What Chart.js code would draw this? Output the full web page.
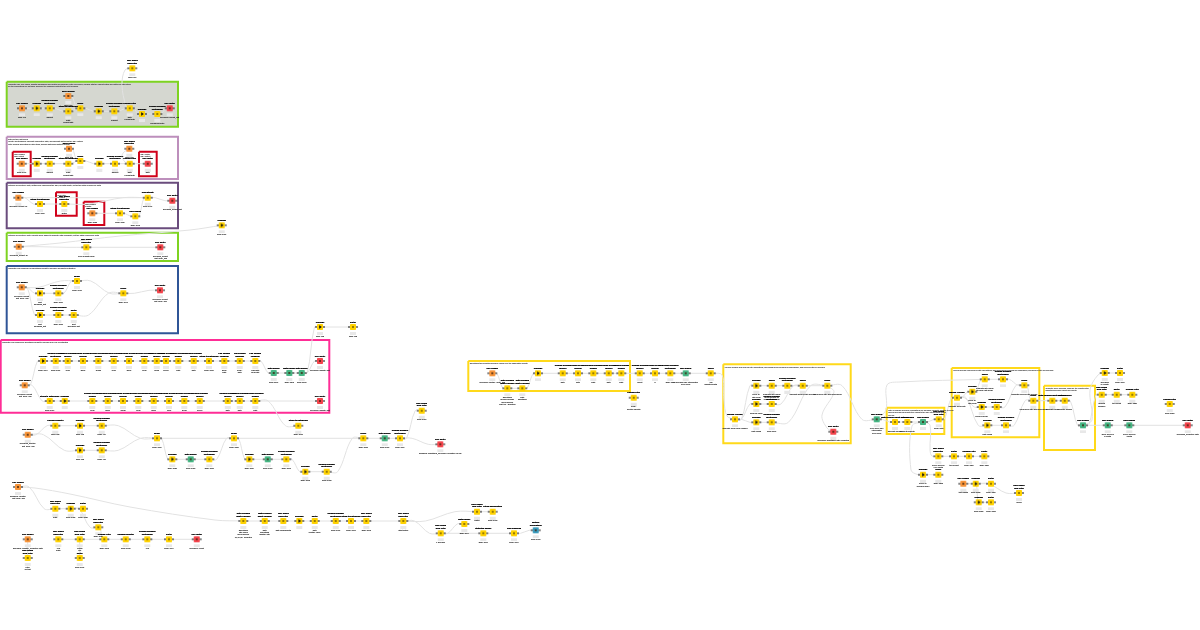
<!DOCTYPE html>
<html><head><meta charset="utf-8">
<style>html,body{margin:0;padding:0;background:#fff}canvas{display:block}</style>
<script src="https://cdn.jsdelivr.net/npm/chart.js@4/dist/chart.umd.min.js"></script>
</head><body><canvas id="c" width="1200" height="630"></canvas>
<script>
const nodeIds = [
"a0","a1","a2","a3","a4","a5","a6","a7","a8","a9","a10","a11","a12",
"b1","b2","b3","b4","b5","b6","b7","b8","b9","b10","b11",
"c1","c2","c3","c4","c5","c6","c7","c8","c9",
"d1","d2","d3",
"e1","e2","e3","e4","e5","e6","e7","e8","e9",
"f1","f2","f3","f4","f5","f6","f7","f8","f9","f10","f11","f12","f13","f14","f15","f16","f17","f18","f19","f20","f21","f22","f23",
"g1","g2","g3","g4","g5","g6","g7","g8","g9","g10","g11","g12","g13","g14",
"h1","h2","h3","h4","h5","h6","h7","h9","h10","h11","h8","h13","h14","h15","h16","h17","h12","h18","h19","h20","h21","h22",
"k1","k2","k3","k4","k5","k6","k7","k8","k9","k10","k11","k12","k13","k14","k15","k16","k17","k18","k19","k20","k21",
"m1","m2","m3","m4","m5","m6","m7","m8","m9","m10",
"p1","p2","p3","p4","p5","p6","p7","p8","p9","p10","p11","p12","p13","p14","p15",
"q1","q2","q3","q4","q5","q6","q7","q8","q9","q10","q11",
"r1","r2","r3","r4","r5",
"s1","s2","s3","s4","s5","s6","s7","s8","s9","s10",
"u1","u2","u3","u4","u5","u6","u7","u8","u9","u10","u11","u12",
"v1","v2","v3","v4","v5","v6",
"w1","w2","w3","w4","w5","w6"];
const nodeX = [
132.3,22,36.7,49.7,68.3,80.3,98.7,114.3,129.7,142,157.3,169.7,68.3,
21.7,36.7,49.7,68.3,80.3,99.3,115,129.7,147.7,129.3,69,
18.3,40,64.3,92.3,120,135.3,147.7,172.3,221.7,
18.7,86.3,160.3,
21.7,40,58.3,77,123.3,160,40,58.3,73.7,
24.7,43,55.7,67.7,83,98.3,113.7,129,144.3,156.7,166,178.3,193.7,209,224.3,239.7,255.3,273.7,289.3,301.7,320,320,353,
49.7,64.7,92.3,107.7,123,138.3,153.7,169,184.3,199.7,227.7,239.7,255.3,320,
27.7,55.3,80,101.7,80,101.7,157,172.3,190.7,209.3,234,249.3,267.7,286.3,305.3,326.7,363.3,384.7,400,440.3,421.7,298.3,
18,55.3,70.7,83,98.3,243.3,264.7,283.3,299.3,314.7,335.7,351,366.3,403.3,440.7,464.3,477,492.7,483.3,514,535.7,
27.7,27.7,58.3,79.7,79.7,104.3,125.7,147.3,169,196.7,
492.3,507.3,522.3,538,562.7,578,593.3,608.7,621.3,639.7,655,670.3,685.7,710.7,633.7,
735,756.3,771.7,787.3,802.7,827.3,756.3,771.7,756.3,771.7,833.3,
876.7,895,907.3,923,938.7,
957,972.3,984.7,1003,1024.3,981.7,996.7,987.3,1006,1033.3,
1052.3,1064.7,1083,1107.7,1129.3,1187.7,1101.7,1116.7,1132.3,1104.7,1120,1169.7,
938.3,954,969,984.3,923,938.3,
963.3,975.7,991,1019,978.7,991];
const nodeY = [
68.3,108.3,108.3,108.3,111.3,108.3,111.3,111.3,108.3,114,114,108.3,96,
163.7,163.7,163.7,163.7,161,163.7,163.7,163.7,163.7,148.7,148.7,
197.7,204,204,213.3,213.3,216.3,197.7,200.7,225.3,
246.7,247.3,247.3,
287.3,293.3,293.3,281,293.3,290.3,315,315,315,
385.3,361,361,361,361,361,361,361,361,361,361,361,361,361,361,361,361,373,373,373,361,327,327,
401,401,401,401,401,401,401,401,401,401,401,401,401,401,
434.7,425.7,425.7,425.7,450.3,450.3,438.3,459.3,459.3,459.3,438.3,459.3,459.3,459.3,471.7,471.7,438.3,438.3,438.3,444.3,410.7,425.7,
487,508.7,508.7,508.7,527.3,521,521,521,521,521,521,521,521,521,533.3,524,511.7,511.7,533.3,533.3,530.3,
539.3,558,539.3,539.3,558,539.3,539.3,539.3,539.3,539.3,
373.3,388.3,388.3,373.3,373.3,373.3,373.3,373.3,373.3,373.3,373.3,373.3,373.3,373.3,397.7,
419.3,385.7,385.7,385.7,385.7,385.7,404,404,422.3,422.3,431.7,
419.3,422,422,422,419.3,
397.7,391.7,379.3,379.3,385.3,407,407,425.3,425.3,400.7,
400.7,400.7,425.3,425.3,425.3,425.3,394.7,394.7,394.7,373,373,404,
456.3,456.3,456.3,456.3,474.7,474.7,
483.7,483.7,483.7,493,502.3,502.3];
const nodeNames = {
a0:"Rule-based\nRow Filter",a1:"CSV Reader",a2:"GroupBy",a3:"Column Renamer\n(Dictionary)",a4:"String to Date&Time",a5:"Joiner",a6:"GroupBy",a7:"Column Renamer\n(Dictionary)",a8:"Column Filter",a9:"GroupBy",a10:"Column Renamer\n(Dictionary)",a11:"CSV Writer",a12:"Excel Reader",
b1:"CSV Reader",b2:"GroupBy",b3:"Column Renamer\n(Dictionary)",b4:"String to Date&Time",b5:"Joiner",b6:"GroupBy",b7:"Column Renamer\n(Dictionary)",b8:"Column Filter",b9:"CSV Writer",b10:"Rule-based\nRow Filter",b11:"Excel Reader",
c1:"CSV Reader",c2:"String to Date&Time",c3:"Rule-based\nRow Filter",c4:"CSV Reader",c5:"String to Date&Time",c6:"Rule Engine",c7:"Concatenate",c8:"CSV Writer",c9:"GroupBy",
d1:"CSV Reader",d2:"Rule-based\nRow Filter",d3:"CSV Writer",
e1:"CSV Reader",e2:"GroupBy",e3:"Column Renamer\n(Dictionary)",e4:"Joiner",e5:"Joiner",e6:"CSV Writer",e7:"GroupBy",e8:"Column Renamer\n(Dictionary)",e9:"Sorter",
f1:"CSV Reader",f2:"GroupBy",f3:"Column Renamer\n(Dictionary)",f4:"Column Renamer\n(Regex)",f5:"Column Renamer\n(Regex)",f6:"Column Renamer\n(Regex)",f7:"Column Renamer\n(Regex)",f8:"Column Renamer\n(Regex)",f9:"Column Renamer\n(Regex)",f10:"Column Renamer\n(Regex)",f11:"Column Renamer\n(Regex)",f12:"Column Renamer\n(Regex)",f13:"Column Renamer\n(Regex)",f14:"String to Date&Time",f15:"Lag Column\n(Window)",f16:"Lag Column\n(Window)",f17:"Lag Column\n(Window)",f18:"Math Engine",f19:"Math Engine",f20:"Math Engine",f21:"CSV Writer",f22:"GroupBy",f23:"Sorter",
g1:"String to Date&Time",g2:"GroupBy",g3:"Column Renamer\n(Regex)",g4:"Column Renamer\n(Regex)",g5:"Column Renamer\n(Regex)",g6:"Column Renamer\n(Regex)",g7:"Column Renamer\n(Regex)",g8:"Column Renamer\n(Regex)",g9:"Column Renamer\n(Regex)",g10:"Column Renamer\n(Regex)",g11:"Column Renamer\n(Regex)",g12:"Column Renamer\n(Regex)",g13:"Column Renamer\n(Regex)",g14:"CSV Writer",
h1:"CSV Reader",h2:"Column Resorter",h3:"GroupBy",h4:"Column Renamer\n(Dictionary)",h5:"GroupBy",h6:"Column Renamer\n(Dictionary)",h7:"Joiner",h9:"GroupBy",h10:"Math Engine",h11:"Column Renamer\n(Dictionary)",h8:"Joiner",h13:"GroupBy",h14:"Math Engine",h15:"Column Renamer\n(Dictionary)",h16:"GroupBy",h17:"Column Renamer\n(Dictionary)",h12:"Joiner",h18:"Math Engine",h19:"Column Renamer\n(Dictionary)",h20:"CSV Writer",h21:"Rule-based\nRow Filter",h22:"String to Date&Time",
k1:"CSV Reader",k2:"Rule-based\nRow Filter",k3:"GroupBy",k4:"Sorter",k5:"Rule-based\nRow Filter",k6:"Math Formula\n(Multi Column)",k7:"Math Formula\n(Multi Column)",k8:"Rule-based\nRow Filter",k9:"GroupBy",k10:"Sorter",k11:"Column Renamer\n(Dictionary)",k12:"String to Date&Time",k13:"Rule-based\nRow Filter",k14:"Rule-based\nRow Filter",k15:"Rule-based\nRow Filter",k16:"Math Engine",k17:"Rule-based\nRow Filter",k18:"String Manipulation",k19:"Statistics Engine",k20:"Time Sampling",k21:"Multiple\nCorrelations",
m1:"CSV Reader",m2:"Rule-based\nRow Filter",m3:"Rule-based\nRow Filter",m4:"Rule-based\nRow Filter",m5:"Sorter",m6:"Column Filter",m7:"Column Resorter",m8:"Column Renamer\n(Dictionary)",m9:"Sorter",m10:"CSV Writer",
p1:"CSV Reader",p2:"Math Formula\n(Multi Column)",p3:"Math Formula\n(Multi Column)",p4:"GroupBy",p5:"Column Rename\n(Regex)",p6:"Column Rename\n(Regex)",p7:"Column Rename\n(Regex)",p8:"Column Rename\n(Regex)",p9:"Column Rename\n(Regex)",p10:"Column Rename\n(Regex)",p11:"Column Rename\n(Regex)",p12:"Column Renamer\n(Dictionary)",p13:"Rule Engine",p14:"Joiner",p15:"Column Filter",
q1:"Moving Average",q2:"GroupBy",q3:"Joiner",q4:"Column Renamer\n(Dictionary)",q5:"Joiner",q6:"Joiner",q7:"GroupBy",q8:"Column Renamer\n(Dictionary)",q9:"GroupBy",q10:"Column Renamer\n(Dictionary)",q11:"CSV Writer",
r1:"Rule Engine",r2:"Math Formula (Multi Column)",r3:"Math Formula",r4:"Rule Engine",r5:"Rule-based\nRow Filter",
s1:"Moving Average",s2:"GroupBy",s3:"Joiner",s4:"Column Renamer\n(Dictionary)",s5:"Joiner",s6:"GroupBy",s7:"Column Renamer\n(Dictionary)",s8:"GroupBy",s9:"Column Renamer\n(Dictionary)",s10:"Joiner",
u1:"Math Formula (Multi Column)",u2:"Math Formula",u3:"Rule Engine",u4:"Rule Engine",u5:"Rule Engine",u6:"CSV Writer",u7:"Rule-based\nRow Filter",u8:"Sorter",u9:"Column Filter",u10:"GroupBy",u11:"Sorter",u12:"Column Filter",
v1:"Rule-based\nRow Filter",v2:"Sorter",v3:"Column Filter",v4:"Sorter",v5:"GroupBy",v6:"Joiner",
w1:"CSV Reader",w2:"GroupBy",w3:"Sorter",w4:"Rule-based\nRow Filter",w5:"GroupBy",w6:"Sorter"};
const nodeNotes = {
a0:"Node 970",a1:"Node 946",a3:"Cabinet",a4:"Date\nFormat date",a7:"Cabinet",a8:"Date\nFormat date",a10:"Column Selector",a11:"scenarios_predict_hist",a12:"Node 998",
b1:"Node 1041",b3:"Cabinet",b4:"Date\nFormat date",b7:"Cabinet",b8:"Date\nFormat date",b9:"Date",b10:"Node 998",b11:"Node 998",
c1:"scenarios_predict_all",c2:"Node 1024",c3:"Dates",c4:"Node 1033",c5:"Node 1036",c6:"Node 1043",c7:"Node 1041",c8:"scenarios_predict_hist",c9:"Node 1071",
d1:"scenarios_predict_all",d2:"Keep 2 month delay",d3:"scenarios_predict\n_hist_delay_sub",
e1:"scenarios_predict\n_hist_delay_sub",e2:"Sort\nscenarios_hist",e3:"Node 1066",e4:"Node 1043",e5:"Node 1047",e6:"scenarios_predict\n_hist_delay_sub",e7:"Sort\nscenarios_hist",e8:"Node 1068",e9:"Sort\nscenarios_hist",
f1:"scenarios_predict\n_hist_delay_sub",f2:"Node 1064",f3:"Node 1071",f4:"Final",f5:"Node",f6:"Gross",f7:"Final",f8:"Node",f9:"Final",f10:"Dead",f11:"Recov",f12:"Rate",f13:"Rate",f14:"Node 1078",f15:"Delay\nRate",f16:"Delay\nRate",f17:"Calculate\ndead rate",f18:"Node 1241",f19:"Node 1242",f20:"Node 1243",f21:"scenarios_smooth_hist",f22:"Node 973",f23:"Node 973",
g1:"Node 1079",g3:"Final",g4:"Node",g5:"Gross",g6:"Final",g7:"Node",g8:"Final",g9:"Dead",g10:"Recov",g11:"Rate",g12:"Rate",g13:"Rate",g14:"scenarios_smooth_hist",
h1:"scenarios_monthly\n_hist_delay_sub",h2:"Node 972",h3:"Node 973",h4:"Node 974",h5:"Node 975",h6:"Node 976",h7:"Node 1034",h9:"Node 1035",h10:"Node 1056",h11:"Node 1057",h8:"Node 1058",h13:"Node 1059",h14:"Node 1060",h15:"Node 1061",h16:"Node 1062",h17:"Node 1063",h12:"Node 1065",h18:"Node 1067",h19:"Node 1069",h20:"scenarios_smoothing_weekdays_predicted_all.csv",h21:"Node 1070",h22:"Node 1077",
k1:"scenarios_monthly\n_hist_delay_sub",k2:"Date",k3:"Node 1037",k4:"Node 1038",k5:"Node 1039",k6:"Smoothing\nrate rolling\nmean window\n1,7,14,30 - Evolution",k7:"Rate\nsmoothing\nmonthly rate",k8:"Rate rolling/month",k10:"Rate\nmonthly value",k11:"Node 1091",k12:"Node 1092",k13:"Node 1093",k14:"Start Filters",k15:"1 scenario",k16:"Node 1094",k17:"Dates",k18:"Node 1095",k19:"Node 1096",k20:"Node 1097",k21:"Node 1098",
m1:"Scenarios_monthly_predicted_data",m2:"Filter\nfor test",m3:"Year\nData",m4:"Month\nCol",m5:"Node 1701",m6:"Node 1702",m7:"Node 1703",m8:"Year",m9:"Node 1704",m10:"scenarios_export",
p1:"scenarios_monthly_delay_sub",p2:"Smoothing\nmoving average\nmean window\nreset col - Evolution",p3:"Rate\nsmoothing",p5:"Rate",p6:"Rate",p7:"Rate",p8:"Rate",p9:"Rate",p10:"Count",p11:"%",p12:"Node 1221",p13:"1. Scenario daily interpolated\n1.5% delay",p14:"Add\nsmoothed data",p15:"Delay\nmonthly smooth",
q1:"Calculate mean delay window",q2:"Delay by\nrate mean",q3:"Calculate rate rolling\nmean window for\ndelayed rate mean",q5:"Calculate delayed rate average",q6:"Add delayed rate and rolling mean",q7:"Delayed mean",q9:"Rate rolling",q10:"Node 1241",q11:"scenarios_smoothing_data_predicted",
r1:"1.5% delay daily\ninterpolated\n1.5% delay",r2:"Calculate window",r3:"Compute smooth",r5:"Delay data",
s1:"Calculate mean rate",s2:"Delay by\nrate mean",s3:"Calculate rate rolling\nfor delay rate mean",s5:"Calculate delayed rate average",s6:"Delayed mean",s8:"Rate rolling",s10:"Add delayed rate and rolling mean",
u1:"Calculate delay",u2:"Compute window",u4:"Delay delayed\n1 month",u5:"Delay delayed\nmonth",u6:"scenarios_predicted_data",u7:"Smooth\nscenario",u8:"top predict",u9:"Node 1227",u10:"scenarios\nby month",u11:"Node 1247",u12:"Node 1318",
v1:"Delay delayed\n1 by month",v2:"top predict",v3:"Node 1257",v4:"Node 1270",v5:"Delay by\nscenario mean",v6:"Node 1273",
w1:"test results",w2:"Node 1305",w3:"Node 1306",w4:"rolling",w5:"Node 1312",w6:"Node 1313"};
const edgeChains = [
["a1","a2","a3","a4","a5","a6","a7","a8","a9","a10","a11"],["a12","a5"],["a0","a8"],
["b1","b2","b3","b4","b5","b6","b7","b8","b9"],["b11","b5"],["b10","b8"],
["c1","c2","c3"],["c4","c5","c6","c7"],["c1","c7","c8"],["c3","c7"],
["d1","d2","d3"],["d1","c9"],
["e1","e2","e3","e4","e5","e6"],["e1","e4"],["e1","e7","e8","e9","e5"],
["f1","f2","f3","f4","f5","f6","f7","f8","f9","f10","f11","f12","f13","f14","f15","f16","f17","f18","f19","f20","f21"],["f20","f22","f23"],
["f1","g1","g2","g3","g4","g5","g6","g7","g8","g9","g10","g11","g12","g13","g14"],["g13","h22"],
["h1","h2","h3","h4","h7","h8","h12","h18","h19","h20"],["h1","h5","h6","h7"],["h7","h9","h10","h11","h8"],["h8","h13","h14","h15","h16","h17","h12"],["h19","h21"],
["k1","k2","k3","k4"],["k3","k5","m6"],["k1","k6","k7","k8","k9","k10","k11","k12","k13","k14","k15","k19","k20","k21"],["k15","k16"],["k14","k17","k18"],
["m3","m4","m6","m7","m8","m9","m10"],["m4","m5"],["m1","m2"],
["p1","p2","p3","p4","p5","p6","p7","p8","p9","p10","p11","p12","p13","p14"],["p14","q1"],
["q1","q2","q3","q4","q5","q6","q11"],["q1","q7","q8","q5"],["q1","q9","q10","q6"],["q6","r1"],
["r1","r2","r3","r4","r5","s1"],["r1","s3"],
["s1","s2","s3","s4","s5","s10","u1","u2","u3","u4","u5","u6"],["s1","s6","s7","s5"],["s1","s8","s9","s10"],
["u3","u7","u8","u9"],["u3","u10","u11"],
["r4","v1","v2","v3","v4"],["r4","v5","v6"],
["w1","w2","w3"],["w2","w4"],["w2","w5","w6"]];
const edgeViaKeys = ["a0>a8","b10>b8","r1>s3","p14>q1","q6>q11","r4>v1","r4>v5","u3>u10","k1>k6","d1>c9"];
const edgeViaPoints = [
[[125,70],[122,85],[126,106]],
[[124,152],[122,156],[125,162]],
[[886,410],[887,385],[900,382]],
[[722,375],[724,400],[727,416]],
[[834,392],[822,415],[827,428]],
[[930,425],[930,450],[932,456]],
[[912,426],[911,470],[918,474.7]],
[[1092,420],[1090,390],[1098,375]],
[[35,488],[70,494],[130,507],[215,520]],
[[60,243],[120,236],[190,230]]];
const boxLeft   = [6.7,6.7,12.7,139,6.7,56,83.7,6.7,6.7,0.7,468.3,723.3,886.7,951.7,1044];
const boxRight  = [178,178,30.7,156.7,178,76.7,104.3,178,178,329.3,630,850.7,944.3,1039.3,1095];
const boxTop    = [81.7,136.7,151.7,151.7,182.7,192.3,201.7,232.7,266,340,361,364.3,407.7,368,385.7];
const boxBottom = [126.7,179,176.3,176.3,228.3,215.7,225,261,333.3,412.7,391,443.3,434,437.3,450];
const boxColors = ["#7ed321","#bd8fbc","#d0021b","#d0021b","#6a4c7d","#d0021b","#d0021b","#7ed321","#2f5597","#ff2d96","#ffd91a","#ffd91a","#ffd91a","#ffd91a","#ffd91a"];
const boxFills  = ["#d5d7d0",null,"#fff","#fff",null,"#fff","#fff",null,null,null,null,null,null,null,null];
const boxTitles = [
"Calculate daily new cases, hospital admissions and deaths per scenario; date conversion, merged with the cabinet dates and written for later steps\nDo the calculations per scenario and save the combined output to the next workflow",
"Data for the past period\nCreate and transform: calculate cumulative data, and calculate data from the CSV writers\nFilter periods and dates for later steps, merged data from multiple reports",
"CSV Reader\nCSV output","CSV Writer\nCSV output",
"Filtering all reports by date, getting new cases from the CSV; for data quality, get all the dates required for plots",
"Row Filter\nfor dates","CSV Reader\nreports",
"Filtering all reports by date: 2 month delay added to simulate data availability; get the dates required for plots",
"Calculate new column(s) for smoothing predict to scenario and past investigated",
"Calculate new columns for smoothing predict to scenario and year investigated",
"Smoothing the predicted scenario values over the aggregated results",
"Moving average and delayed rate calculations, add rolling mean columns for comparison, and delayed rate per scenario",
"Rate of change and delay calculations per scenario; compute window of mean\nmoving averages and write the values to the daily interpolated output\nper day",
"Moving average and delayed rate calculations, add rolling mean columns for comparison, and delayed rate per scenario",
"Compute delay windows, compare the results of the\nsmoothed scenario values per month"];
const kindColors = {Y:"#ffd200",O:"#f7953a",G:"#45b583",R:"#f4444c",B:"#3a9bbd"};
const kindById = {a1:"O",a11:"R",a12:"O",b1:"O",b9:"R",b10:"O",b11:"O",c1:"O",c4:"O",c8:"R",d1:"O",d3:"R",e1:"O",e6:"R",f1:"O",f18:"G",f19:"G",f20:"G",f21:"R",g14:"R",h1:"O",h10:"G",h14:"G",h18:"G",h20:"R",k1:"O",k21:"B",m1:"O",m10:"R",p1:"O",p13:"G",q11:"R",r1:"G",r4:"G",u3:"G",u4:"G",u5:"G",u6:"R",w1:"O"};
const glyphColors = {dark:"#111",soft:"#9a7d00"};

function sprite(color,glyph){
  const s=document.createElement("canvas");s.width=14;s.height=16;
  const g=s.getContext("2d");
  g.fillStyle="#e8e8e8";g.fillRect(4,13,6,3);
  g.fillStyle=color;g.beginPath();g.roundRect(4,5,6,6,.8);g.fill();
  g.fillStyle="#111";g.fillRect(2,7.5,2,1);g.fillRect(10,7.5,2,1);
  if(glyph==="dark"){g.fillRect(6,6.5,.8,3);g.beginPath();g.moveTo(6.8,6.5);g.lineTo(8.8,8);g.lineTo(6.8,9.5);g.fill();}
  else{g.fillStyle=color===kindColors.Y?glyphColors.soft:"rgba(60,30,10,.7)";g.fillRect(6,7,2,2);}
  return s;
}
const sprites={};
Object.keys(kindColors).forEach(k=>{sprites[k+"dark"]=sprite(kindColors[k],"dark");sprites[k+"soft"]=sprite(kindColors[k],"soft");});
const pos={};nodeIds.forEach((id,i)=>pos[id]={x:nodeX[i],y:nodeY[i],kind:kindById[id]||"Y"});
const glyphOf=id=>(nodeNames[id]||"").startsWith("GroupBy")?"dark":"soft";

const datasets=[];
datasets.push({label:"nodes",type:"scatter",order:1,
  data:nodeIds.map((id,i)=>({x:nodeX[i],y:nodeY[i]})),
  pointStyle:nodeIds.map(id=>sprites[pos[id].kind+glyphOf(id)]),pointRadius:4,showLine:false});
edgeChains.forEach(chain=>{
  for(let i=0;i+1<chain.length;i++){
    const a=pos[chain[i]],b=pos[chain[i+1]];
    const k=Math.min(Math.abs(b.x-a.x)*0.3,40);
    const straight=Math.abs(a.y-b.y)<0.5;
    const vi=edgeViaKeys.indexOf(chain[i]+">"+chain[i+1]);
    const mid=vi>=0?edgeViaPoints[vi].map(p=>({x:p[0],y:p[1]})):straight?[]:[{x:a.x+k,y:a.y},{x:b.x-k,y:b.y}];
    datasets.push({label:"edge",type:"scatter",order:2,showLine:true,pointRadius:0,
      borderColor:"#e2e2e2",borderWidth:1,tension:straight?0:0.35,
      data:[{x:a.x,y:a.y},...mid,{x:b.x,y:b.y}]});
  }
});
boxLeft.forEach((l,i)=>{
  datasets.push({label:"box",type:"scatter",order:3,showLine:true,pointRadius:0,
    borderColor:boxColors[i],borderWidth:2,tension:0,
    fill:boxFills[i]?"shape":false,backgroundColor:boxFills[i]||"transparent",
    data:[{x:l,y:boxTop[i]},{x:boxRight[i],y:boxTop[i]},{x:boxRight[i],y:boxBottom[i]},{x:l,y:boxBottom[i]},{x:l,y:boxTop[i]}]});
});
const textPlugin={id:"texts",afterDatasetsDraw(ch){
  const c=ch.ctx,sx=ch.scales.x,sy=ch.scales.y;c.save();c.textAlign="center";
  nodeIds.forEach((id,i)=>{
    const px=sx.getPixelForValue(nodeX[i]),py=sy.getPixelForValue(nodeY[i]);
    const nm=(nodeNames[id]||"").split("\n");
    c.font="bold 2px 'Liberation Sans'";c.fillStyle="#000";
    nm.forEach((t,j)=>{const y=py-4.4-(nm.length-1-j)*2.5;c.fillText(t,px,y);c.fillText(t,px,y);c.fillText(t,px,y);});
    const nt=(nodeNotes[id]||"").split("\n");
    c.font="1.9px 'Liberation Sans'";c.fillStyle="#222";
    nt.forEach((t,j)=>{const y=py+9.5+j*2.4;c.fillText(t,px,y);c.fillText(t,px,y);});
  });
  c.textAlign="left";c.font="1.9px 'Liberation Sans'";c.fillStyle="#444";
  boxTitles.forEach((t,i)=>{
    t.split("\n").forEach((ln,j)=>{const x=sx.getPixelForValue(boxLeft[i])+1.5,y=sy.getPixelForValue(boxTop[i])+3.3+j*2.3;c.fillText(ln,x,y);c.fillText(ln,x,y);});
  });
  c.restore();
}};
new Chart(document.getElementById("c"),{type:"scatter",data:{datasets},plugins:[textPlugin],options:{
  responsive:false,animation:false,devicePixelRatio:1,layout:{padding:0,autoPadding:false},
  plugins:{legend:{display:false},tooltip:{enabled:false},title:{display:false}},
  scales:{x:{type:"linear",min:0,max:1200,display:false},y:{type:"linear",min:0,max:630,reverse:true,display:false}}
}});
</script></body></html>
